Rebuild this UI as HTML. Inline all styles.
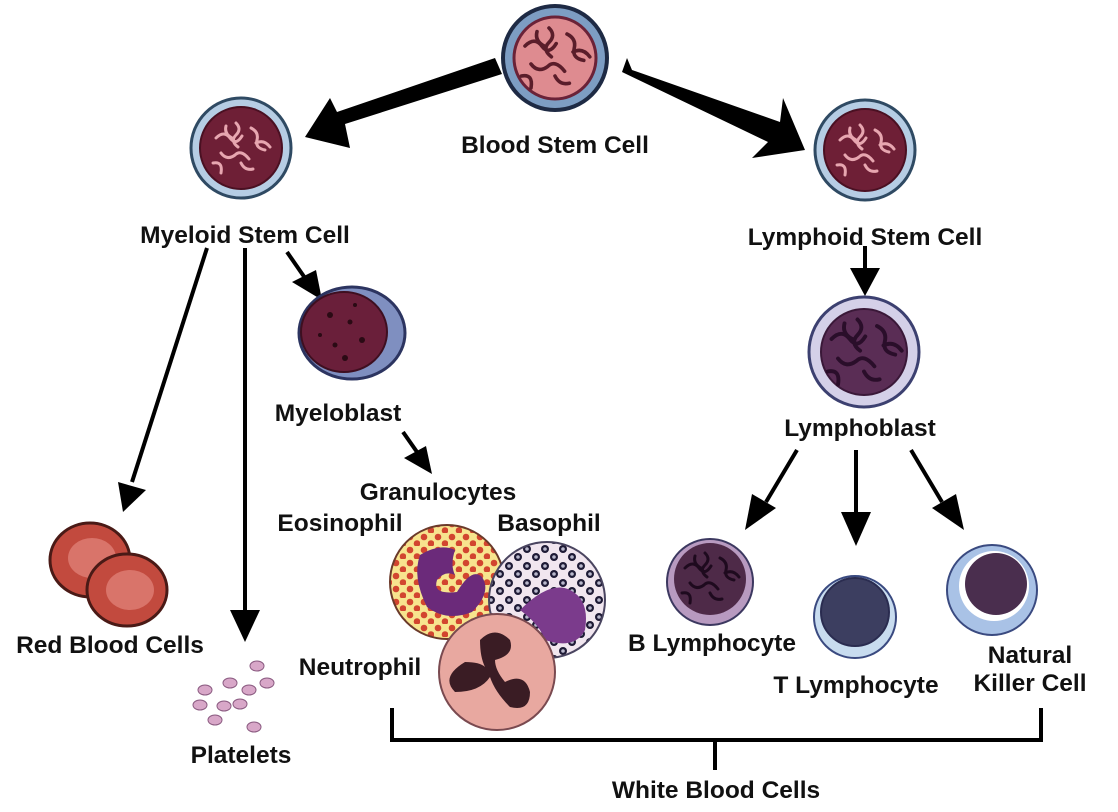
<!DOCTYPE html>
<html><head><meta charset="utf-8"><style>
html,body{margin:0;padding:0;background:#fff;}
svg{display:block;}
text{font-family:"Liberation Sans",Arial,sans-serif;font-weight:bold;fill:#111;font-size:24.5px;text-anchor:middle;}
</style></head><body>
<svg width="1118" height="812" viewBox="0 0 1118 812" xmlns="http://www.w3.org/2000/svg">
<defs>
<pattern id="eo" width="14" height="13" patternUnits="userSpaceOnUse">
<rect width="14" height="13" fill="#f7e48e"/><circle cx="4" cy="4" r="3.3" fill="#d2452f"/><circle cx="11" cy="10.5" r="3.3" fill="#d2452f"/></pattern>
<pattern id="ba" width="18" height="17" patternUnits="userSpaceOnUse">
<rect width="18" height="17" fill="#f1e6ef"/><circle cx="5" cy="5" r="4" fill="#1e1a35"/><circle cx="5" cy="5" r="1.8" fill="#b9b8cc"/><circle cx="14" cy="13" r="4" fill="#1e1a35"/><circle cx="14" cy="13" r="1.8" fill="#b9b8cc"/></pattern>
<g id="squig" fill="none" stroke-width="3" stroke-linecap="round">
<path d="M-25,-10 q8,-8 14,0 t12,-2 M-20,5 q6,8 14,2 q6,-6 14,4 M-5,-25 q6,6 0,12 q-6,6 2,12 M10,-20 q8,4 6,12 q-2,8 8,10 M-28,15 q10,-2 8,10 M0,15 q4,8 12,6 M15,-5 q8,-4 14,4 M-15,-22 q-2,8 6,12"/>
</g>
</defs>

<!-- Big arrows -->
<polygon points="495,58 502,74 345,124 350,148 305,137 330,98 337,112" fill="#000"/>
<polygon points="627,58 632,70 780,122 783,98 805,150 752,158 768,142 622,72" fill="#000"/>

<!-- Blood stem cell -->
<circle cx="555" cy="58" r="52" fill="#7d9dc3" stroke="#1e2a44" stroke-width="4"/>
<circle cx="555" cy="58" r="41" fill="#de8b90" stroke="#6b2238" stroke-width="3"/>
<g transform="translate(555,58)" stroke="#5a1d2a"><use href="#squig" transform="scale(1.2)" style="stroke-width:1.5"/></g>
<text x="555" y="153">Blood Stem Cell</text>

<!-- Myeloid stem -->
<circle cx="241" cy="148" r="50" fill="#b6cde4" stroke="#2f4a63" stroke-width="3"/>
<circle cx="241" cy="148" r="41" fill="#6e1f36" stroke="#4a1022" stroke-width="2"/>
<g transform="translate(241,148)" stroke="#e7a6b0"><use href="#squig" style="stroke-width:6"/></g>
<text x="245" y="243">Myeloid Stem Cell</text>

<!-- Lymphoid stem -->
<circle cx="865" cy="150" r="50" fill="#b6cde4" stroke="#2f4a63" stroke-width="3"/>
<circle cx="865" cy="150" r="41" fill="#6e1f36" stroke="#4a1022" stroke-width="2"/>
<g transform="translate(865,150)" stroke="#e7a6b0"><use href="#squig" style="stroke-width:6"/></g>
<text x="865" y="245">Lymphoid Stem Cell</text>

<!-- small arrows -->
<g stroke="#000" stroke-width="4">
<line x1="207" y1="248" x2="132" y2="482"/>
<line x1="245" y1="248" x2="245" y2="612"/>
<line x1="287" y1="252" x2="305" y2="278"/>
<line x1="403" y1="432" x2="417" y2="452"/>
<line x1="865" y1="246" x2="865" y2="270"/>
<line x1="797" y1="450" x2="766" y2="502"/>
<line x1="856" y1="450" x2="856" y2="512"/>
<line x1="911" y1="450" x2="942" y2="502"/>
</g>
<g fill="#000">
<polygon points="118,482 146,490 123,512"/>
<polygon points="230,610 260,610 245,642"/>
<polygon points="292,282 316,270 322,300"/>
<polygon points="404,458 426,446 432,474"/>
<polygon points="850,268 880,268 865,296"/>
<polygon points="752,494 776,508 745,530"/>
<polygon points="841,512 871,512 856,546"/>
<polygon points="932,508 956,494 964,530"/>
</g>

<!-- Myeloblast -->
<ellipse cx="352" cy="333" rx="53" ry="46" fill="#7f8fc0" stroke="#2c3460" stroke-width="3"/>
<ellipse cx="344" cy="332" rx="43" ry="40" fill="#6a1f3a" stroke="#3e0f20" stroke-width="2"/>
<g fill="#2a0a14"><circle cx="330" cy="315" r="3"/><circle cx="350" cy="322" r="2.5"/><circle cx="362" cy="340" r="3"/><circle cx="335" cy="345" r="2.5"/><circle cx="320" cy="335" r="2"/><circle cx="355" cy="305" r="2"/><circle cx="345" cy="358" r="3"/></g>
<text x="338" y="421">Myeloblast</text>

<!-- RBCs -->
<ellipse cx="90" cy="560" rx="40" ry="37" fill="#c24a3e" stroke="#4a1a16" stroke-width="3"/>
<ellipse cx="92" cy="558" rx="24" ry="20" fill="#d9746a"/>
<ellipse cx="127" cy="590" rx="40" ry="36" fill="#c24a3e" stroke="#4a1a16" stroke-width="3"/>
<ellipse cx="130" cy="590" rx="24" ry="20" fill="#d9746a"/>
<text x="110" y="653">Red Blood Cells</text>

<!-- Platelets -->
<g fill="#d8a7c8" stroke="#8a5a80" stroke-width="1">
<ellipse cx="257" cy="666" rx="7" ry="5"/><ellipse cx="230" cy="683" rx="7" ry="5"/><ellipse cx="267" cy="683" rx="7" ry="5"/>
<ellipse cx="205" cy="690" rx="7" ry="5"/><ellipse cx="249" cy="690" rx="7" ry="5"/><ellipse cx="200" cy="705" rx="7" ry="5"/>
<ellipse cx="224" cy="706" rx="7" ry="5"/><ellipse cx="240" cy="704" rx="7" ry="5"/><ellipse cx="215" cy="720" rx="7" ry="5"/><ellipse cx="254" cy="727" rx="7" ry="5"/>
</g>
<text x="241" y="763">Platelets</text>

<!-- Granulocytes -->
<text x="438" y="500">Granulocytes</text>
<text x="340" y="531">Eosinophil</text>
<text x="549" y="531">Basophil</text>
<text x="360" y="675">Neutrophil</text>

<circle cx="447" cy="582" r="57" fill="url(#eo)" stroke="#6b3a2a" stroke-width="2"/>
<path d="M420,555 q20,-12 35,-5 q-5,15 0,25 q-10,-5 -18,5 q-5,15 20,12 q15,-25 25,-15 q10,15 -10,35 q-25,10 -45,-5 q-15,-30 -7,-52z" fill="#6b2a7a"/>
<circle cx="547" cy="600" r="58" fill="url(#ba)" stroke="#4a4560" stroke-width="2"/>
<path d="M520,610 q30,-30 50,-20 q20,10 15,40 q-10,20 -40,10 q-5,-15 -25,-30z" fill="#7b3b8c"/>
<circle cx="497" cy="672" r="58" fill="#e8a8a0" stroke="#7a4a50" stroke-width="2"/>
<path d="M480,640 q15,-15 30,0 q5,15 -15,20 q0,10 10,22 q20,-10 25,10 q0,20 -20,15 q-15,-15 -20,-30 q-10,15 -35,15 q-15,-15 10,-30 q15,0 20,5 q-5,-10 -5,-27z" fill="#3a1c24"/>

<!-- Lymphoblast -->
<circle cx="864" cy="352" r="55" fill="#d4d0e8" stroke="#3c4070" stroke-width="3"/>
<circle cx="864" cy="352" r="43" fill="#5a2d55" stroke="#3a1838" stroke-width="2"/>
<g transform="translate(864,352)" stroke="#2a0e2a"><use href="#squig" transform="scale(1.3)" style="stroke-width:2.5"/></g>
<text x="860" y="436">Lymphoblast</text>

<!-- B -->
<circle cx="710" cy="582" r="43" fill="#b89ac0" stroke="#3c3860" stroke-width="2"/>
<circle cx="710" cy="579" r="36" fill="#4e2a48"/>
<g transform="translate(710,578)" stroke="#1e0a1e"><use href="#squig" style="stroke-width:2.5"/></g>
<text x="712" y="651">B Lymphocyte</text>
<!-- T -->
<circle cx="855" cy="617" r="41" fill="#c8dcef" stroke="#3a4a80" stroke-width="2"/>
<circle cx="855" cy="612" r="34" fill="#3c3e60" stroke="#2a2c50" stroke-width="2"/>
<text x="856" y="693">T Lymphocyte</text>
<!-- NK -->
<circle cx="992" cy="590" r="45" fill="#a9c2e6" stroke="#3a4a80" stroke-width="2"/>
<circle cx="994" cy="586" r="35" fill="#fff"/>
<circle cx="996" cy="584" r="31" fill="#4a2e4e"/>
<text x="1030" y="663">Natural</text>
<text x="1030" y="691">Killer Cell</text>

<!-- Bracket -->
<g stroke="#000" stroke-width="4" fill="none">
<polyline points="392,708 392,740 1041,740 1041,708"/>
<line x1="715" y1="740" x2="715" y2="770"/>
</g>
<text x="716" y="798">White Blood Cells</text>
</svg>
</body></html>
